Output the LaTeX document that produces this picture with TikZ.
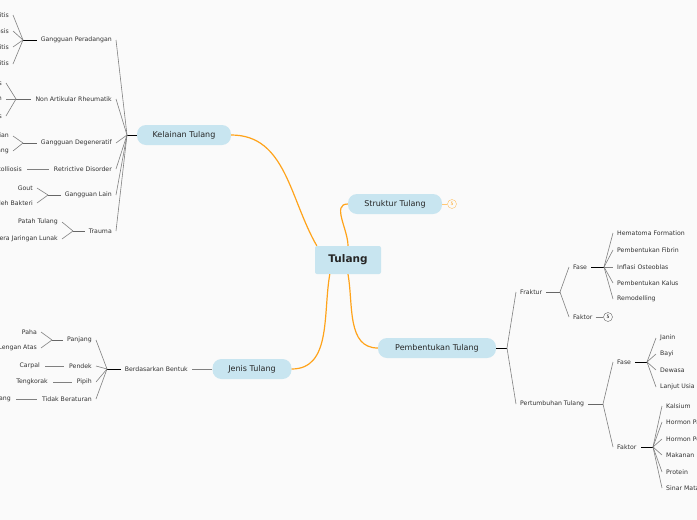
\documentclass[tikz,border=0pt]{standalone}
\usepackage{fontspec}
\setmainfont{DejaVu Sans}
\definecolor{nb}{HTML}{C8E5F0}
\definecolor{og}{HTML}{FFA31A}
\begin{document}
\begin{tikzpicture}[x=1pt,y=-1pt,
  lbl/.style={font=\fontsize{6.2}{7}\selectfont,text=black!80,inner sep=0pt},
  br/.style={rounded corners=9pt,fill=nb,font=\fontsize{8}{9}\selectfont,text=black!85,minimum height=20pt,inner sep=0pt},
  ln/.style={draw=black!50,line width=0.6pt},
  jn/.style={draw=black,line width=0.9pt},
  org/.style={draw=og,line width=1.2pt}]
\fill[black!2] (0,0) rectangle (697,520);
\useasboundingbox (0,0) rectangle (697,520);
\clip (0,0) rectangle (697,520);
% main
\node[br,minimum width=66pt,minimum height=28pt,rounded corners=2pt,font=\bfseries\fontsize{10.5}{12}\selectfont] (T) at (348,260) {Tulang};
\node[br,minimum width=94pt] (S) at (395,204) {Struktur Tulang};
\node[br,minimum width=118pt] (P) at (437,348) {Pembentukan Tulang};
\node[br,minimum width=94pt] (K) at (184,135) {Kelainan Tulang};
\node[br,minimum width=79pt] (J) at (252,369) {Jenis Tulang};
\node[draw=og!70,circle,inner sep=0pt,minimum size=9pt,font=\fontsize{4.5}{5}\selectfont,text=og] (Sc) at (452,204) {5};
\draw[draw=og!60,line width=0.5pt] (S.east) -- (Sc);
\draw[org] (T.north) to[out=90,in=180] (S.west);
\draw[org] (T.south) to[out=-80,in=180] (P.west);
\draw[org] (T.north west)++(2,0) to[out=120,in=0] (K.east);
\draw[org] (T.south west)++(15,0) to[out=-100,in=0] (J.east);
% Kelainan
\coordinate (kj) at (127,135);
\draw[jn] (kj) -- (K.west);
\foreach \n/\t/\y in {k1/Gangguan Peradangan/40,k2/Non Artikular Rheumatik/99,k3/Gangguan Degeneratif/143,k4/Retrictive Disorder/169,k5/Gangguan Lain/195,k6/Trauma/231}{
  \node[lbl,anchor=east] (\n) at (112,\y) {\t};
  \draw[ln] (kj) -- ([xshift=4pt]\n.east);}
\coordinate (k1j) at (23,40); \draw[jn] (k1j) -- ([xshift=-4pt]k1.west);
\foreach \n/\t/\y in {a1/Osteomielitis/15,a2/Tuberkulosis/31,a3/Artritis/47,a4/Spondilitis/64}{
  \node[lbl,anchor=east] (\n) at (9,\y) {\t}; \draw[ln] (k1j) -- ([xshift=4pt]\n.east);}
\coordinate (k2j) at (16,99); \draw[jn,draw=black!60] (k2j) -- ([xshift=-4pt]k2.west);
\foreach \n/\t/\y in {b1/Bursitis/83,b2/Tendinitis Peradangan/99,b3/Fibrositis/116}{
  \node[lbl,anchor=east] (\n) at (2,\y) {\t}; \draw[ln] (k2j) -- ([xshift=4pt]\n.east);}
\coordinate (k3j) at (23,143); \draw[jn,draw=black!60] (k3j) -- ([xshift=-4pt]k3.west);
\foreach \n/\t/\y in {c1/Osteoartritis Sendi Tulang Kerangkaian/136,c2/Osteoporosis Tulang/151}{
  \node[lbl,anchor=east] (\n) at (9,\y) {\t}; \draw[ln] (k3j) -- ([xshift=4pt]\n.east);}
\node[lbl,anchor=east] (d1) at (22,169) {Kifoskolliosis};
\draw[ln] ([xshift=5pt]d1.east) -- ([xshift=-5pt]k4.west);
\coordinate (k5j) at (48,195); \draw[jn,draw=black!60] (k5j) -- ([xshift=-4pt]k5.west);
\foreach \n/\t/\y in {e1/Gout/188,e2/Infeksi oleh Bakteri/203}{
  \node[lbl,anchor=east] (\n) at (33,\y) {\t}; \draw[ln] (k5j) -- ([xshift=4pt]\n.east);}
\coordinate (k6j) at (73,231); \draw[jn,draw=black!60] (k6j) -- ([xshift=-4pt]k6.west);
\foreach \n/\t/\y in {f1/Patah Tulang/222,f2/Cedera Jaringan Lunak/239}{
  \node[lbl,anchor=east] (\n) at (58,\y) {\t}; \draw[ln] (k6j) -- ([xshift=4pt]\n.east);}
% Jenis
\node[lbl,anchor=east] (jb) at (188,369) {Berdasarkan Bentuk};
\draw[ln] (J.west) -- ([xshift=4pt]jb.east);
\coordinate (jj) at (107,369); \draw[jn] (jj) -- ([xshift=-4pt]jb.west);
\foreach \n/\t/\y in {g1/Panjang/340,g2/Pendek/366,g3/Pipih/382,g4/Tidak Beraturan/399}{
  \node[lbl,anchor=east] (\n) at (92,\y) {\t}; \draw[ln] (jj) -- ([xshift=4pt]\n.east);}
\coordinate (g1j) at (52,340); \draw[jn,draw=black!60] (g1j) -- ([xshift=-4pt]g1.west);
\foreach \n/\t/\y in {h1/Paha/332,h2/Tulang Lengan Atas/348}{
  \node[lbl,anchor=east] (\n) at (37,\y) {\t}; \draw[ln] (g1j) -- ([xshift=4pt]\n.east);}
\node[lbl,anchor=east] (h3) at (40,366) {Carpal}; \draw[ln] ([xshift=5pt]h3.east) -- ([xshift=-5pt]g2.west);
\node[lbl,anchor=east] (h4) at (48,382) {Tengkorak}; \draw[ln] ([xshift=5pt]h4.east) -- ([xshift=-5pt]g3.west);
\node[lbl,anchor=east] (h5) at (11,399) {Tulang Belakang}; \draw[ln] ([xshift=5pt]h5.east) -- ([xshift=-5pt]g4.west);
% Pembentukan
\coordinate (pj) at (507,348); \draw[jn] (pj) -- (P.east);
\node[lbl,anchor=west] (p1) at (520,292) {Fraktur};
\node[lbl,anchor=west] (p2) at (520,404) {Pertumbuhan Tulang};
\draw[ln] (pj) -- ([xshift=-4pt]p1.west); \draw[ln] (pj) -- ([xshift=-4pt]p2.west);
\coordinate (p1j) at (560,292); \draw[jn,draw=black!60] (p1j) -- ([xshift=4pt]p1.east);
\node[lbl,anchor=west] (q1) at (573,267) {Fase};
\node[lbl,anchor=west] (q2) at (573,317) {Faktor};
\draw[ln] (p1j) -- ([xshift=-4pt]q1.west); \draw[ln] (p1j) -- ([xshift=-4pt]q2.west);
\node[draw=black!60,circle,inner sep=0pt,minimum size=9pt,font=\fontsize{4.5}{5}\selectfont] (qc) at (608,317) {5};
\draw[ln] ([xshift=3pt]q2.east) -- (qc);
\coordinate (q1j) at (604,267); \draw[jn] (q1j) -- ([xshift=4pt]q1.east);
\foreach \n/\t/\y in {r1/Hematoma Formation/233,r2/Pembentukan Fibrin/250,r3/Inflasi Osteoblas/267,r4/Pembentukan Kalus/283,r5/Remodelling/299}{
  \node[lbl,anchor=west] (\n) at (617,\y) {\t}; \draw[ln] (q1j) -- ([xshift=-4pt]\n.west);}
\coordinate (p2j) at (603,404); \draw[jn,draw=black!60] (p2j) -- ([xshift=4pt]p2.east);
\node[lbl,anchor=west] (s1) at (617,362) {Fase};
\node[lbl,anchor=west] (s2) at (617,447) {Faktor};
\draw[ln] (p2j) -- ([xshift=-4pt]s1.west); \draw[ln] (p2j) -- ([xshift=-4pt]s2.west);
\coordinate (s1j) at (647,362); \draw[jn] (s1j) -- ([xshift=4pt]s1.east);
\foreach \n/\t/\y in {u1/Janin/338,u2/Bayi/354,u3/Dewasa/370,u4/Lanjut Usia/387}{
  \node[lbl,anchor=west] (\n) at (660,\y) {\t}; \draw[ln] (s1j) -- ([xshift=-4pt]\n.west);}
\coordinate (s2j) at (653,447); \draw[jn] (s2j) -- ([xshift=4pt]s2.east);
\foreach \n/\t/\y in {v1/Kalsium/406,v2/Hormon Paratiroid/422,v3/Hormon Pertumbuhan/439,v4/Makanan/455,v5/Protein/472,v6/Sinar Matahari/488}{
  \node[lbl,anchor=west] (\n) at (666,\y) {\t}; \draw[ln] (s2j) -- ([xshift=-4pt]\n.west);}
\end{tikzpicture}
\end{document}
